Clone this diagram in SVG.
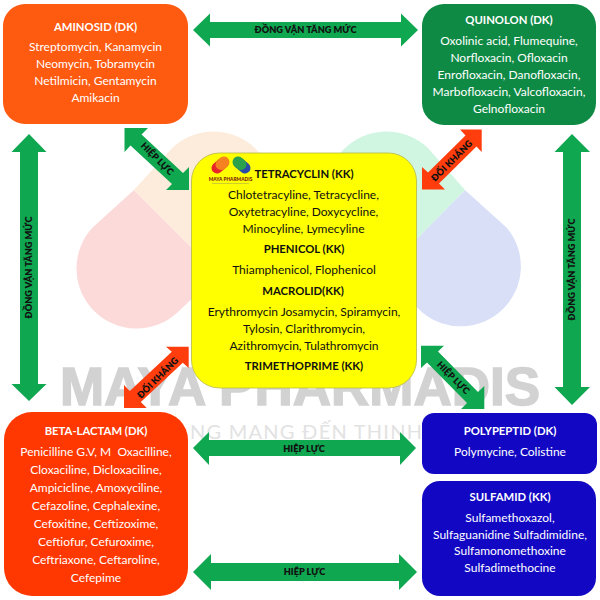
<svg xmlns="http://www.w3.org/2000/svg" width="600" height="600" viewBox="0 0 600 600">
<style>
text{font-family:"Lato","Carlito","Open Sans",sans-serif;text-anchor:middle}
.t{font-size:11.3px;font-weight:700}
.b{font-size:12px}
.w{fill:#fff}
.k{fill:#111}
.l{font-size:9.2px;font-weight:800;fill:#111}
.g{fill:#0fa750}
.o{fill:#ff3d0d}
</style>
<rect width="600" height="600" fill="#fff"/>
<g id="watermark">
<path d="M134 190L92.600 227.600A60 60 0 0 0 177.400 312.400L218 274Z" fill="#fcdada"/>
<path d="M134 190L172.600 147.600A60 60 0 0 1 257.400 232.400L218 274Z" fill="#fdebdc"/>
<path d="M465 190L507 228A60 60 0 0 1 422.400 312.400L382 274Z" fill="#d8dff7"/>
<path d="M465 190L427.400 147.600A60 60 0 0 0 342.600 232.400L382 274Z" fill="#d0f6e2"/>
<text x="300" y="405" textLength="480" lengthAdjust="spacingAndGlyphs" style="font-family:'Liberation Sans',sans-serif;font-size:53px;font-weight:700" fill="#d2d2d2" stroke="#d2d2d2" stroke-width="1.500">MAYA PHARMADIS</text>
<text x="306" y="439" textLength="232" lengthAdjust="spacing" style="font-size:20px" fill="#e2e2e2">NG MANG ĐẾN THINH</text>
</g>
<g id="connectors">
<polygon class="g" points="193,30 210,13.500 210,22 401,22 401,13.500 418,30 401,46.500 401,38 210,38 210,46.500"/>
<text class="l" x="305.500" y="33.300">ĐỒNG VẬN TĂNG MỨC</text>
<polygon class="g" points="29,134 46.500,152 38,152 38,384 46.500,384 29,401 11.500,384 20,384 20,152 11.500,152"/>
<text class="l" transform="translate(32.300 267.500) rotate(-90)">ĐỒNG VẬN TĂNG MỨC</text>
<polygon class="g" points="572,134 590,152 581,152 581,387 590,387 572,405 554.500,387 563,387 563,152 554.500,152"/>
<text class="l" transform="translate(575.300 269.500) rotate(-90)">ĐỒNG VẬN TĂNG MỨC</text>
<polygon class="g" points="193,448 209,432 209,440 400,440 400,432 416,448 400,465 400,456 209,456 209,465"/>
<text class="l" x="304" y="452.300">HIỆP LỰC</text>
<polygon class="g" points="193,572 211,554 211,563 399,563 399,554 417,572 399,590 399,581 211,581 211,590"/>
<text class="l" x="304.500" y="575.300">HIỆP LỰC</text>
<polygon class="g" points="124.500,128 148,128 141.500,134.500 183,173 189,167 189,190 166,190 172,184 130.500,145.500 124.500,152"/>
<text class="l" transform="translate(155 161) rotate(45)">HIỆP LỰC</text>
<polygon class="g" points="421,345.700 444,345.700 438,351.500 478,392 484.300,386 484.300,409 461,409 467,403 427,362.500 421,368"/>
<text class="l" transform="translate(451 380) rotate(45)">HIỆP LỰC</text>
<polygon class="o" points="481.700,129.500 460,129.500 465.500,135.500 428,172.500 422,167 422,189.500 445,189.500 439,183.500 476.500,146.500 481.700,152"/>
<text class="l" transform="translate(454 163) rotate(-45)">ĐỐI KHÁNG</text>
<polygon class="o" points="188.700,346.700 166,346.700 171.800,351.800 129.800,391 124,385 124,408 146.700,408 140.800,402 182.800,362.800 188.700,368"/>
<text class="l" transform="translate(160 380) rotate(-45)">ĐỐI KHÁNG</text>
</g>
<g id="aminosid">
<rect x="3" y="4" width="185" height="120" rx="22" fill="#fe5a10"/>
<text class="t w" x="95.500" y="30.500">AMINOSID (DK)</text>
<text class="b w" x="95.500" y="51">Streptomycin, Kanamycin</text>
<text class="b w" x="95.500" y="68">Neomycin, Tobramycin</text>
<text class="b w" x="95.500" y="85">Netilmicin, Gentamycin</text>
<text class="b w" x="95.500" y="102">Amikacin</text>
</g>
<g id="quinolon">
<rect x="422" y="4" width="174" height="121" rx="22" fill="#0f8a45"/>
<text class="t w" x="509" y="24">QUINOLON (DK)</text>
<text class="b w" x="509" y="45">Oxolinic acid, Flumequine,</text>
<text class="b w" x="509" y="62">Norfloxacin, Ofloxacin</text>
<text class="b w" x="509" y="79">Enrofloxacin, Danofloxacin,</text>
<text class="b w" x="509" y="96">Marbofloxacin, Valcofloxacin,</text>
<text class="b w" x="509" y="113">Gelnofloxacin</text>
</g>
<g id="center">
<rect x="191.500" y="153" width="225" height="235" rx="28" fill="#ffff00" stroke="#b5b84a" stroke-width="0.800"/>
<g stroke-width="11" stroke-linecap="round" fill="none">
<path d="M217 168L223 163" stroke="#e8262a"/>
<path d="M221 164.500L224 162" stroke="#f58220"/>
<path d="M245 168L239 163" stroke="#2a4ca8"/>
<path d="M241 164.500L238 162" stroke="#2aa14a"/>
</g>
<text x="230.500" y="180.500" style="font-size:4.800px;font-weight:900" fill="#7a1a12">MAYA PHARMADIS</text>
<path d="M212 183.500H249" stroke="#c2c23a" stroke-width="0.800"/>
<text class="t k" x="304" y="178">TETRACYCLIN (KK)</text>
<text class="b k" x="303.500" y="199">Chlotetracyline, Tetracycline,</text>
<text class="b k" x="303.500" y="216">Oxytetracyline, Doxycycline,</text>
<text class="b k" x="303.500" y="233">Minocyline, Lymecyline</text>
<text class="t k" x="304" y="253">PHENICOL (KK)</text>
<text class="b k" x="304" y="274">Thiamphenicol, Flophenicol</text>
<text class="t k" x="303" y="295">MACROLID(KK)</text>
<text class="b k" x="304" y="316">Erythromycin Josamycin, Spiramycin,</text>
<text class="b k" x="304" y="333">Tylosin, Clarithromycin,</text>
<text class="b k" x="304" y="350">Azithromycin, Tulathromycin</text>
<text class="t k" x="304" y="370">TRIMETHOPRIME (KK)</text>
</g>
<g id="beta-lactam">
<rect x="4" y="412" width="184" height="184" rx="28" fill="#ff3700"/>
<text class="t w" x="96" y="435">BETA-LACTAM (DK)</text>
<text class="b w" x="96" y="456" xml:space="preserve">Penicilline G.V, M  Oxacilline,</text>
<text class="b w" x="96" y="474">Cloxaciline, Dicloxaciline,</text>
<text class="b w" x="96" y="492">Ampicicline, Amoxyciline,</text>
<text class="b w" x="96" y="510">Cefazoline, Cephalexine,</text>
<text class="b w" x="96" y="528">Cefoxitine, Ceftizoxime,</text>
<text class="b w" x="96" y="546">Ceftiofur, Cefuroxime,</text>
<text class="b w" x="96" y="564">Ceftriaxone, Ceftaroline,</text>
<text class="b w" x="96" y="582">Cefepime</text>
</g>
<g id="polypeptid">
<rect x="422" y="413" width="175" height="61" rx="12" fill="#1208c4"/>
<text class="t w" x="510" y="435">POLYPEPTID (DK)</text>
<text class="b w" x="510" y="456">Polymycine, Colistine</text>
</g>
<g id="sulfamid">
<rect x="422" y="481" width="174" height="115" rx="18" fill="#1208c4"/>
<text class="t w" x="510" y="501">SULFAMID (KK)</text>
<text class="b w" x="510" y="522">Sulfamethoxazol,</text>
<text class="b w" x="510" y="539">Sulfaguanidine Sulfadimidine,</text>
<text class="b w" x="510" y="555">Sulfamonomethoxine</text>
<text class="b w" x="510" y="572">Sulfadimethocine</text>
</g>
</svg>
